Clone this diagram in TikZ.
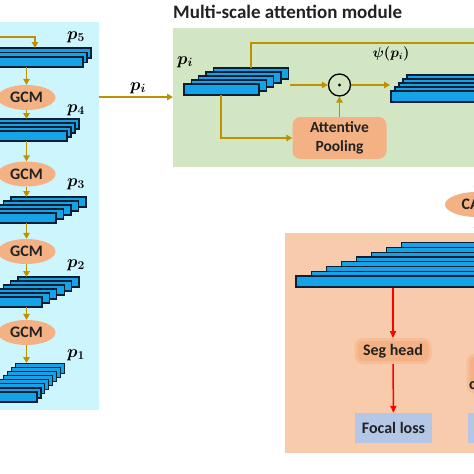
\documentclass[tikz,border=0pt]{standalone}
\usepackage{fontspec}
\setmainfont{Carlito}
\usepackage{bm}
\usetikzlibrary{arrows.meta,shapes.geometric,calc}
\definecolor{gold}{HTML}{BF9000}
\definecolor{salmon}{HTML}{F4B183}
\definecolor{lightcyan}{HTML}{CCF5FD}
\definecolor{lightgreen}{HTML}{D2E6C4}
\definecolor{lightorange}{HTML}{F8CBAD}
\definecolor{lossblue}{HTML}{B4C7E7}
\definecolor{layerblue}{HTML}{14A3E6}
\definecolor{layerline}{HTML}{0B1E33}
\definecolor{darktext}{HTML}{222222}
\newcommand{\layerstack}[7]{\foreach \k in {#1}{\draw[layer] ({#2+\k*#6},{#3-\k*#7}) rectangle ++(#4,#5);}}
\tikzset{
  golden/.style={draw=gold, line width=1.8pt},
  goldarr/.style={golden, -{Triangle[width=6.5pt,length=6pt]}},
  redarr/.style={draw=red, line width=1.5pt, -{Triangle[width=6pt,length=7pt]}},
  layer/.style={draw=layerline, fill=layerblue, line width=1.2pt},
  gcm/.style={ellipse, fill=salmon, minimum width=58pt, minimum height=25pt, inner sep=0pt,
    font=\fontsize{16}{18}\selectfont\bfseries, text=darktext},
  plabel/.style={inner sep=0pt, font=\fontsize{16.5}{18}\selectfont\boldmath},
  boxtext/.style={font=\fontsize{16}{19}\selectfont\bfseries, text=darktext},
  panel/.style={draw=none}
}
\begin{document}
\begin{tikzpicture}[x=1pt,y=-1pt]
\useasboundingbox (0,0) rectangle (474,474);
\clip (0,0) rectangle (474,474);
% panels
\fill[lightcyan] (-5,22) rectangle (99,410);
\fill[lightgreen] (173,28) rectangle (490,167);
\fill[lightorange] (285,233) rectangle (490,453);
% title
\node[anchor=base west, inner sep=0pt, font=\fontsize{19}{22}\selectfont\bfseries, text=darktext] (title) at (173,18.5) {Multi-scale attention module};
% ---------- left column ----------
\layerstack{2,1,0}{-27}{57}{110}{10}{4}{4.5}
\layerstack{3,2,1,0}{-33}{131}{100}{10}{4}{4}
\layerstack{4,3,2,1,0}{-19}{213}{75}{10}{7.5}{4}
\layerstack{5,4,3,2,1,0}{-19}{297}{61}{10}{7.4}{4}
\layerstack{7,6,5,4,3,2,1,0}{-12}{392}{49}{10}{3.9}{4.1}
\node[plabel] (p5) at (76,37) {$\bm{p}_{\bm{5}}$};
\node[plabel] (p4) at (76,110) {$\bm{p}_{\bm{4}}$};
\node[plabel] (p3) at (76,184) {$\bm{p}_{\bm{3}}$};
\node[plabel] (p2) at (76,265) {$\bm{p}_{\bm{2}}$};
\node[plabel] (p1) at (76,355) {$\bm{p}_{\bm{1}}$};
\node[gcm] (g1) at (26.5,97.5) {GCM};
\node[gcm] (g2) at (26.5,174) {GCM};
\node[gcm] (g3) at (26.5,251.5) {GCM};
\node[gcm] (g4) at (26.5,332.5) {GCM};
\coordinate (inA) at (-2,37);
\coordinate (p5t) at (35,48);
\coordinate (p5b) at (26.5,67);
\coordinate (p4t) at (26.5,119);
\coordinate (p4b) at (26.5,141);
\coordinate (p3t) at (26.5,197);
\coordinate (p3b) at (26.5,223);
\coordinate (p2t) at (26.5,277);
\coordinate (p2b) at (26.5,307);
\coordinate (p1t) at (26.5,363);
\draw[goldarr] (inA) -| (p5t);
\draw[goldarr] (p5b) -- (g1);
\draw[goldarr] (g1) -- (p4t);
\draw[goldarr] (p4b) -- (g2);
\draw[goldarr] (g2) -- (p3t);
\draw[goldarr] (p3b) -- (g3);
\draw[goldarr] (g3) -- (p2t);
\draw[goldarr] (p2b) -- (g4);
\draw[goldarr] (g4) -- (p1t);
% ---------- p_i arrow ----------
\coordinate (piS) at (99,97);
\coordinate (piE) at (173,97);
\draw[goldarr] (piS) -- (piE);
\node[plabel] (pilab) at (138,88) {$\bm{p}_{\bm{i}}$};
% ---------- attention module ----------
\layerstack{4,3,2,1,0}{184}{84}{75}{11}{7.3}{4}
\node[plabel] (pilab2) at (185,62) {$\bm{p}_{\bm{i}}$};
\layerstack{4,3,2,1,0}{391}{91}{200}{11}{4}{4}
\node[plabel, font=\fontsize{13.5}{16}\selectfont\boldmath] (psi) at (391,54) {$\bm{\psi(p_i)}$};
\node[circle, draw=black, line width=1.3pt, minimum size=22pt, inner sep=0pt] (odot) at (339.5,85) {};
\fill (odot.center) circle (1.6pt);
\node[rounded corners=8pt, fill=salmon, minimum width=94pt, minimum height=42pt, align=center,
  inner sep=0pt, boxtext, font=\fontsize{15.5}{19}\selectfont\bfseries] (ap) at (339.5,138) {Attentive\\Pooling};
\coordinate (pitop) at (251,68);
\coordinate (psiR) at (480,43);
\coordinate (piR) at (290,85);
\coordinate (outL) at (390,85);
\coordinate (pibot) at (221,95);
\draw[golden] (pitop) |- (psiR);
\draw[goldarr] (piR) -- (odot);
\draw[goldarr] (odot) -- (outL);
\draw[goldarr] (pibot) |- (ap);
\draw[goldarr] (ap) -- (odot);
% ---------- CA ellipse ----------
\node[ellipse, fill=salmon, minimum width=64pt, minimum height=25pt, inner sep=0pt] (ca) at (477,204.5) {};
\node[anchor=west, inner sep=0pt, boxtext] (catext) at (461.5,204.5) {CA};
\coordinate (caIn) at (477,167);
\coordinate (caOut) at (477,233);
\draw[goldarr] (caIn) -- (ca);
\draw[goldarr] (ca) -- (caOut);
% ---------- bottom panel ----------
\layerstack{7,6,5,4,3,2,1,0}{296}{276}{300}{11}{15.1}{4.75}
\node[rounded corners=7pt, fill=salmon, draw=salmon!55!lightorange, line width=3pt,
  minimum width=74pt, minimum height=23pt, inner sep=0pt, boxtext] (seg) at (393,351) {Seg head};
\node[fill=lossblue, minimum width=77pt, minimum height=30pt, inner sep=0pt, boxtext] (focal) at (393.5,428) {Focal loss};
\coordinate (stackB) at (393,288);
\draw[redarr] (stackB) -- (seg);
\draw[redarr] (seg) -- (focal);
\node[rounded corners=7pt, fill=salmon, draw=salmon!55!lightorange, line width=3pt,
  minimum width=80pt, minimum height=37pt, inner sep=0pt] (side) at (508,373.5) {};
\node[anchor=base west, inner sep=0pt, boxtext] (sidetext) at (469,389.5) {c};
\node[fill=lossblue, minimum width=80pt, minimum height=30pt, inner sep=0pt] (sideloss) at (508,428) {};
\end{tikzpicture}
\end{document}
